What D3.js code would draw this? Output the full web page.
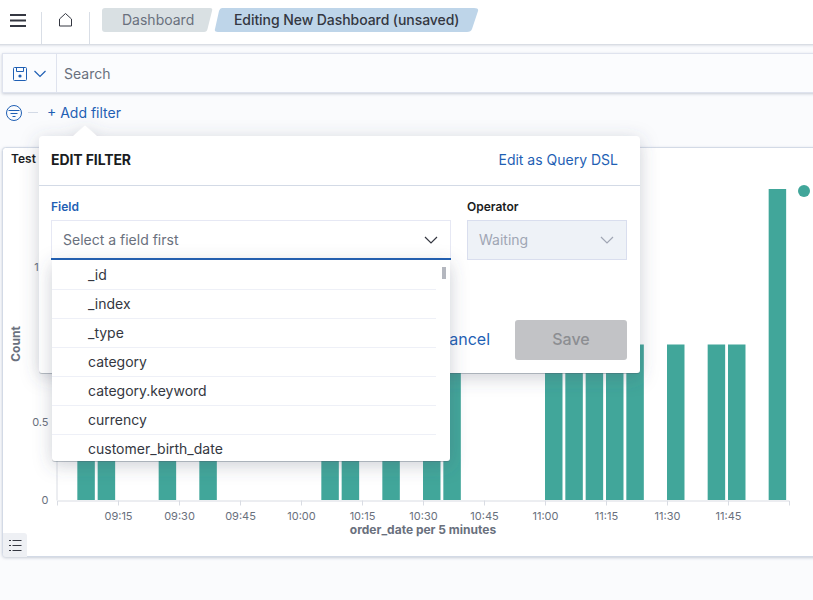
<!DOCTYPE html>
<html>
<head>
<meta charset="utf-8">
<script src="https://cdn.jsdelivr.net/npm/d3@7"></script>
<style>
html, body { margin: 0; padding: 0; background: #fafbfd; overflow: hidden; }
svg { display: block; font-family: Inter, "Noto Sans", sans-serif; }
.axis text { font-family: Inter, "Noto Sans", sans-serif; font-size: 11px; fill: #69707d; }
.axis path, .axis line { stroke: #d9dce3; }
</style>
</head>
<body>
<div id="chart"></div>
<script>
// chart values
var barTimes = ["09:05", "09:10", "09:25", "09:35", "10:05", "10:10", "10:20", "10:30", "10:35",
    "11:00", "11:05", "11:10", "11:15", "11:20", "11:30", "11:40", "11:45", "11:55"];
var barCounts = [1, 1, 1, 1, 1, 1, 1, 1, 1, 1, 1, 1, 1, 1, 1, 1, 1, 2];
var xTickTimes = ["09:15", "09:30", "09:45", "10:00", "10:15", "10:30", "10:45", "11:00", "11:15", "11:30", "11:45"];
var yTicks = [0, 0.5, 1, 1.5, 2];
var fieldOptions = ["_id", "_index", "_type", "category", "category.keyword", "currency", "customer_birth_date"];
var crumbs = ["Dashboard", "Editing New Dashboard (unsaved)"];

var blue = "#1f5fb4";
var teal = "#41a69a";

var parseTime = d3.utcParse("%H:%M");
var fmtTime = d3.utcFormat("%H:%M");

var svg = d3.select("#chart").append("svg").attr("width", 813).attr("height", 600);

var defs = svg.append("defs");
var shadow = defs.append("filter").attr("id", "pop").attr("x", "-10%").attr("y", "-10%").attr("width", "120%").attr("height", "130%");
shadow.append("feDropShadow").attr("dx", 0).attr("dy", 0.6).attr("stdDeviation", 0.7).attr("flood-color", "#4a5468").attr("flood-opacity", 0.55);
shadow.append("feDropShadow").attr("dx", 0).attr("dy", 4).attr("stdDeviation", 9).attr("flood-color", "#4a5468").attr("flood-opacity", 0.28);
var soft = defs.append("filter").attr("id", "soft").attr("x", "-5%").attr("y", "-20%").attr("width", "110%").attr("height", "150%");
soft.append("feDropShadow").attr("dx", 0).attr("dy", 1).attr("stdDeviation", 1.5).attr("flood-color", "#8a93a8").attr("flood-opacity", 0.45);

function label(g, x, y, txt, size, color, weight, anchor) {
    return g.append("text").attr("x", x).attr("y", y).text(txt)
        .attr("font-size", size).attr("fill", color)
        .attr("font-weight", weight || 400).attr("text-anchor", anchor || "start");
}

// top bar
var header = svg.append("g");
header.append("rect").attr("x", -5).attr("y", -5).attr("width", 823).attr("height", 49).attr("fill", "#fff").attr("filter", "url(#soft)");
header.selectAll("rect.bur").data([15, 20.5, 26]).enter().append("rect").attr("class", "bur")
    .attr("x", 10).attr("y", function (d) { return d - 1; }).attr("width", 16).attr("height", 2).attr("fill", "#343741");
header.selectAll("line.sep").data([41.5, 89.5]).enter().append("line").attr("class", "sep")
    .attr("x1", function (d) { return d; }).attr("x2", function (d) { return d; })
    .attr("y1", 12).attr("y2", 44).attr("stroke", "#d9dee6");
header.append("path").attr("d", "M59.5 26V19L65.5 13.5L71.5 19V26Z").attr("fill", "none").attr("stroke", "#343741").attr("stroke-width", 1);
header.append("path").attr("d", "M105 8H210Q213 8 212 11L207.5 29Q207 32 204 32H105Q102 32 102 29V11Q102 8 105 8Z").attr("fill", "#d9e0e3");
header.append("path").attr("d", "M222 8H474Q479 8 478 11L472 29Q471 32 467 32H218Q214 32 215 29L219 11Q220 8 222 8Z").attr("fill", "#bed5e9");
label(header, 122, 25, crumbs[0], 14, "#69707d");
label(header, 234, 25, crumbs[1], 14, "#343741", 500).attr("letter-spacing", -0.07);

// search bar
var search = svg.append("g");
search.append("rect").attr("x", 2.5).attr("y", 53.5).attr("width", 830).attr("height", 39).attr("fill", "#fbfcfe").attr("stroke", "#dfe3ee").attr("filter", "url(#soft)");
search.append("line").attr("x1", 56.5).attr("x2", 56.5).attr("y1", 54).attr("y2", 92).attr("stroke", "#dfe3ee");
search.append("rect").attr("x", 13.5).attr("y", 67.5).attr("width", 13).attr("height", 13).attr("rx", 1).attr("fill", "none").attr("stroke", blue);
search.append("path").attr("d", "M16.5 67.5V71.5H23.5V67.5").attr("fill", "none").attr("stroke", blue);
search.append("circle").attr("cx", 20).attr("cy", 76).attr("r", 1.6).attr("fill", blue);
search.append("path").attr("d", "M34.5 71L40 76.5L45.5 71").attr("fill", "none").attr("stroke", blue).attr("stroke-width", 1.2);
label(search, 64, 79, "Search", 14, "#69707d");

// filter row
var filterRow = svg.append("g");
filterRow.append("circle").attr("cx", 14).attr("cy", 113).attr("r", 7.5).attr("fill", "none").attr("stroke", blue);
filterRow.append("path").attr("d", "M8.5 110.5H19.5M10.5 113.5H17.5M12.5 116.5H15.5").attr("stroke", blue).attr("fill", "none");
filterRow.append("line").attr("x1", 28).attr("x2", 38).attr("y1", 112.5).attr("y2", 112.5).attr("stroke", "#d3dae6");
label(filterRow, 47, 118, "+ Add filter", 14, blue);

// panel
var panel = svg.append("g");
panel.append("rect").attr("x", 2.5).attr("y", 147.5).attr("width", 840).attr("height", 409).attr("rx", 3)
    .attr("fill", "#fff").attr("stroke", "#d3dae6").attr("filter", "url(#soft)");
label(panel, 11, 163, "Test", 12, "#1a1c21", 600);

var x = d3.scaleUtc().domain([parseTime("09:00"), parseTime("12:00")]).range([57, 789]);
var y = d3.scaleLinear().domain([0, 2]).range([500, 189]);
var barW = (x(parseTime("09:05")) - x(parseTime("09:00"))) * 0.86;

panel.selectAll("rect.bar").data(barTimes).enter().append("rect").attr("class", "bar")
    .attr("x", function (d) { return x(parseTime(d)); })
    .attr("y", function (d, i) { return y(barCounts[i]); })
    .attr("width", barW)
    .attr("height", function (d, i) { return y(0) - y(barCounts[i]); })
    .attr("fill", teal);

var xAxis = d3.axisBottom(x).tickValues(xTickTimes.map(parseTime)).tickFormat(fmtTime).tickSize(5).tickPadding(7);
var gx = panel.append("g").attr("class", "axis").attr("transform", "translate(0,500.5)").call(xAxis);

var yAxis = d3.axisLeft(y).tickValues(yTicks).tickFormat(d3.format("")).tickSize(0).tickPadding(8);
var gy = panel.append("g").attr("class", "axis").attr("transform", "translate(56.5,0)").call(yAxis);

label(panel, 423, 534, "order_date per 5 minutes", 12, "#69707d", 700, "middle");
label(panel, 0, 0, "Count", 12, "#69707d", 700, "middle").attr("transform", "translate(20,344) rotate(-90)");
panel.append("circle").attr("cx", 804).attr("cy", 191).attr("r", 6).attr("fill", teal);

panel.append("path").attr("d", "M3 533H24Q27 533 27 536V557H6Q3 557 3 554Z").attr("fill", "#eef0f4");
panel.selectAll("rect.lg").data([0, 1, 2]).enter().append("rect").attr("class", "lg")
    .attr("x", 12.5).attr("y", function (d) { return 540 + d * 5; }).attr("width", 9).attr("height", 1).attr("fill", "#343741");
panel.selectAll("rect.lgd").data([0, 1, 2]).enter().append("rect").attr("class", "lgd")
    .attr("x", 9).attr("y", function (d) { return 540 + d * 5; }).attr("width", 2).attr("height", 1).attr("fill", "#343741");

// popover
var pop = svg.append("g");
pop.append("path").attr("d", "M39 139Q39 136 42 136H73L85 125L97 136H637Q640 136 640 139V370Q640 373 637 373H42Q39 373 39 370Z")
    .attr("fill", "#fff").attr("filter", "url(#pop)");
pop.append("line").attr("x1", 39).attr("x2", 640).attr("y1", 185.5).attr("y2", 185.5).attr("stroke", "#d3dae6");
label(pop, 51, 165, "EDIT FILTER", 14, "#1a1c21", 700).attr("letter-spacing", -0.1);
label(pop, 618, 165, "Edit as Query DSL", 14, blue, 400, "end");
label(pop, 51, 211, "Field", 12, blue, 600);
label(pop, 467, 211, "Operator", 12, "#1a1c21", 600);

pop.append("rect").attr("x", 51.5).attr("y", 220.5).attr("width", 399).attr("height", 39).attr("fill", "#fff").attr("stroke", "#e6e8f4");
pop.append("rect").attr("x", 51).attr("y", 258).attr("width", 400).attr("height", 2).attr("fill", blue);
label(pop, 63, 245, "Select a field first", 14, "#69707d");
pop.append("path").attr("d", "M425 237L431 243L437 237").attr("fill", "none").attr("stroke", "#343741").attr("stroke-width", 1.2);

pop.append("rect").attr("x", 467.5).attr("y", 220.5).attr("width", 159).attr("height", 39).attr("fill", "#eef2f7").attr("stroke", "#d9deee");
label(pop, 479, 245, "Waiting", 14, "#a0a6b4");
pop.append("path").attr("d", "M601 237L607 243L613 237").attr("fill", "none").attr("stroke", "#a0a6b4").attr("stroke-width", 1.2);

label(pop, 490, 345, "Cancel", 16, blue, 400, "end");
pop.append("rect").attr("x", 515).attr("y", 320).attr("width", 112).attr("height", 40).attr("rx", 3).attr("fill", "#c2c3c6");
label(pop, 571, 345, "Save", 16, "#8c8e92", 500, "middle");

// dropdown list
var drop = svg.append("g");
drop.append("path").attr("d", "M52 260H450V458Q450 461 447 461H55Q52 461 52 458Z").attr("fill", "#fff").attr("filter", "url(#pop)");
var rowH = 29;
var rows = drop.selectAll("g.row").data(fieldOptions).enter().append("g").attr("class", "row")
    .attr("transform", function (d, i) { return "translate(0," + (260 + i * rowH) + ")"; });
rows.append("text").attr("x", 88).attr("y", 20).attr("font-size", 14).attr("fill", "#343741").text(function (d) { return d; });
rows.filter(function (d, i) { return i < fieldOptions.length - 1; }).append("line")
    .attr("x1", 52).attr("x2", 436).attr("y1", 29.5).attr("y2", 29.5).attr("stroke", "#eef0f7");
drop.append("rect").attr("x", 442).attr("y", 267).attr("width", 4).attr("height", 12).attr("fill", "#b4b7bf");
</script>
</body>
</html>
